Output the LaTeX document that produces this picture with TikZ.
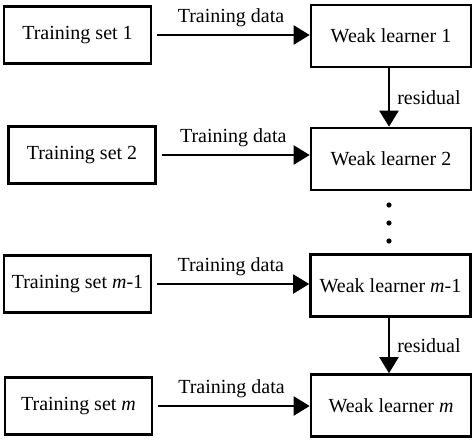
\documentclass[tikz,border=0pt]{standalone}
\usepackage{fontspec}
\setmainfont{Liberation Serif}
\usetikzlibrary{positioning, arrows.meta}

\begin{document}
\begin{tikzpicture}[x=1pt, y=-1pt, font=\fontsize{20}{24}\selectfont,
    setbox/.style={draw, line width=2.6pt, minimum width=147pt, minimum height=57pt, inner sep=0pt},
    learnbox/.style={draw, line width=2.6pt, minimum width=160pt, minimum height=62pt, inner sep=0pt},
    flow/.style={line width=2pt, -{Triangle[length=16pt, width=19pt]}}]
    \useasboundingbox (0,0) rectangle (474,440);

    % Training sets (left column)
    \node[setbox] (ts1) at (77.5,35) {Training set 1};
    \node[setbox] (ts2) at (82,155) {Training set 2};
    \node[setbox] (tsm1) at (77.5,284) {Training set \textit{m}-1};
    \node[setbox] (tsm) at (78.5,406) {Training set \textit{m}};

    % Weak learners (right column)
    \node[learnbox] (wl1) at (391,36) {Weak learner 1};
    \node[learnbox] (wl2) at (391,159) {Weak learner 2};
    \node[learnbox] (wlm1) at (390.5,285.5) {Weak learner \textit{m}-1};
    \node[learnbox] (wlm) at (391,405.5) {Weak learner \textit{m}};

    % Training data arrows
    \draw[flow, shorten <=5pt] (ts1.east) -- (ts1.east -| wl1.west) node[midway, above=4pt] {Training data};
    \draw[flow, shorten <=5pt] (ts2.east) -- (ts2.east -| wl2.west) node[midway, above=4pt] {Training data};
    \draw[flow, shorten <=5pt] (tsm1.east) -- (tsm1.east -| wlm1.west) node[midway, above=4pt] {Training data};
    \draw[flow, shorten <=5pt] (tsm.east) -- (tsm.east -| wlm.west) node[midway, above=4pt] {Training data};

    % Residuals
    \draw[flow] (wl1.south -| 389,0) -- (wl2.north -| 389,0) node[midway, right=4pt] {residual};
    \draw[flow] (wlm1.south -| 389,0) -- (wlm.north -| 389,0) node[midway, right=4pt] {residual};

    \foreach \y in {205,223,241} \fill (389,\y) circle (2.6pt);
\end{tikzpicture}
\end{document}
